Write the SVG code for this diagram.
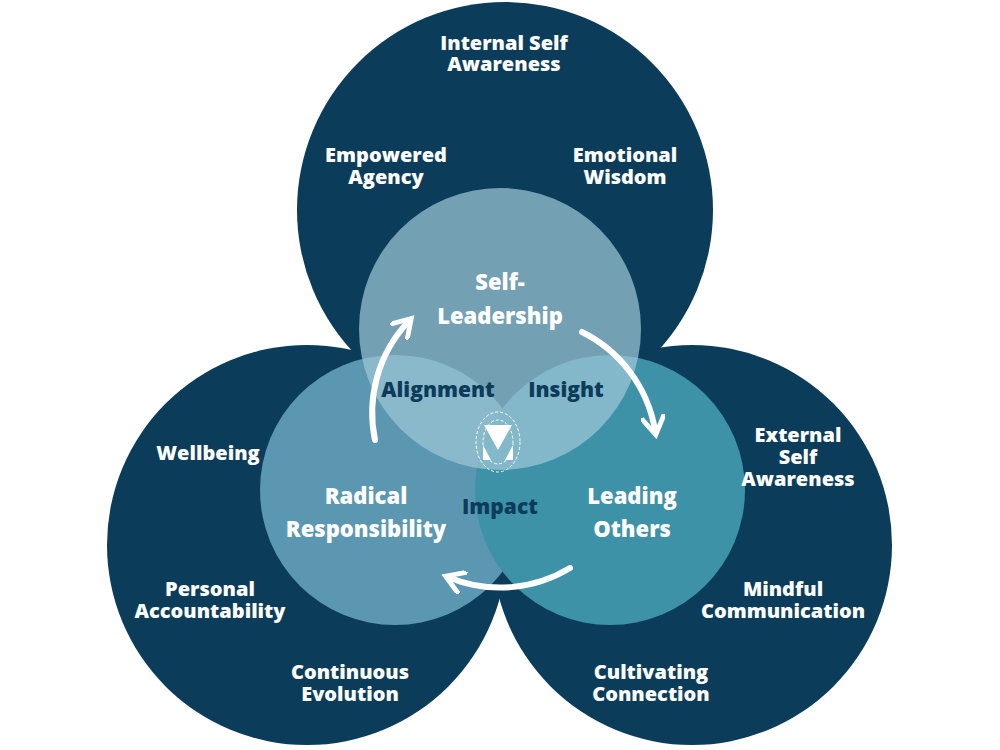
<svg xmlns="http://www.w3.org/2000/svg" width="1000" height="750" viewBox="0 0 1000 750">
<defs>
<style>
.big{fill:#0b3d5b}
.t{font-family:"Open Sans","Liberation Sans",sans-serif;font-weight:800;font-size:20px;fill:#fff;text-anchor:middle}
.d{fill:#0d3b5a;font-size:21px}
.i{font-size:22px}
.arr{fill:none;stroke:#fff;stroke-width:6;stroke-linecap:round}
</style>
<marker id="ah" viewBox="0 0 10 10" refX="6" refY="5" markerWidth="4" markerHeight="4" orient="auto"><path d="M0,0 L8,5 L0,10" fill="none" stroke="#fff" stroke-width="2"/></marker>
</defs>
<rect width="1000" height="750" fill="#fff"/>
<g id="outer-top"><circle class="big" cx="505" cy="210" r="208"/></g>
<g id="outer-left"><circle class="big" cx="307" cy="545" r="200"/></g>
<g id="outer-right"><circle class="big" cx="692" cy="545" r="200"/></g>
<g id="inner-left"><circle cx="395" cy="490" r="135" fill="#5b97b1"/></g>
<g id="inner-right"><circle cx="610" cy="490" r="135" fill="#3e92a8"/></g>
<g id="inner-top"><circle cx="500" cy="329" r="141" fill="#9cc6d5" fill-opacity="0.72"/></g>
<g id="connectors">
<path class="arr" marker-end="url(#ah)" d="M375,440 A133,133 0 0 1 408,322"/>
<path class="arr" marker-end="url(#ah)" d="M582,332 A135,135 0 0 1 655,430"/>
<path class="arr" marker-end="url(#ah)" d="M570,568 A135,135 0 0 1 450,578"/>
</g>
<g id="logo" fill="#fff">
<ellipse cx="498" cy="442" rx="22" ry="30" fill="none" stroke="#fff" stroke-width="1" stroke-dasharray="3 2"/>
<ellipse cx="498" cy="442" rx="15" ry="22" fill="none" stroke="#fff" stroke-width="1" stroke-dasharray="3 2"/>
<path d="M484,425 L512,425 L498,450 Z"/>
<path d="M483,445 L491,460 L483,460 Z"/><path d="M513,445 L505,460 L513,460 Z"/>
</g>
<g id="labels">
<text class="t"><tspan x="504" y="50">Internal Self</tspan><tspan x="504" y="71">Awareness</tspan></text>
<text class="t"><tspan x="386" y="162">Empowered</tspan><tspan x="386" y="184">Agency</tspan></text>
<text class="t"><tspan x="625" y="162">Emotional</tspan><tspan x="625" y="184">Wisdom</tspan></text>
<text class="t i"><tspan x="500" y="290">Self-</tspan><tspan x="500" y="324">Leadership</tspan></text>
<text class="t d" x="438" y="397">Alignment</text>
<text class="t d" x="566" y="397">Insight</text>
<text class="t d" x="500" y="514">Impact</text>
<text class="t i"><tspan x="366" y="504">Radical</tspan><tspan x="366" y="537">Responsibility</tspan></text>
<text class="t i"><tspan x="632" y="504">Leading</tspan><tspan x="632" y="537">Others</tspan></text>
<text class="t" x="208" y="460">Wellbeing</text>
<text class="t"><tspan x="210" y="596">Personal</tspan><tspan x="210" y="618">Accountability</tspan></text>
<text class="t"><tspan x="350" y="679">Continuous</tspan><tspan x="350" y="701">Evolution</tspan></text>
<text class="t"><tspan x="798" y="442">External</tspan><tspan x="798" y="464">Self</tspan><tspan x="798" y="486">Awareness</tspan></text>
<text class="t"><tspan x="783" y="596">Mindful</tspan><tspan x="783" y="618">Communication</tspan></text>
<text class="t"><tspan x="651" y="679">Cultivating</tspan><tspan x="651" y="701">Connection</tspan></text>
</g>
</svg>
